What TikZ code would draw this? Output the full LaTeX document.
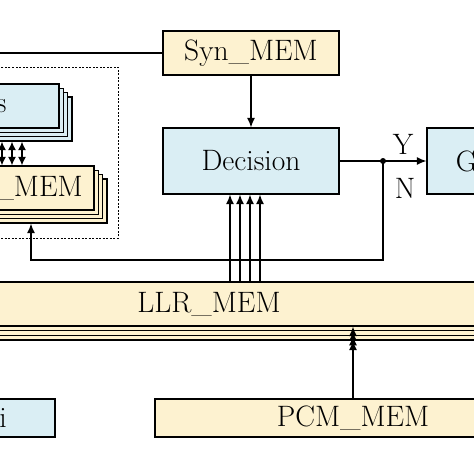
\documentclass[tikz,border=0pt]{standalone}
\usetikzlibrary{positioning, arrows.meta, calc, shadows}
\definecolor{procblue}{RGB}{218,238,244}
\definecolor{memyellow}{RGB}{253,242,208}

\begin{document}
\begin{tikzpicture}[x=1pt, y=-1pt,
  every node/.style={font=\fontsize{29.5}{34}\selectfont},
  blk/.style={rectangle, draw, line width=1.2pt, inner sep=0pt},
  proc/.style={blk, fill=procblue},
  mem/.style={blk, fill=memyellow},
  stackdr/.style={
    copy shadow={shadow xshift=12.9pt, shadow yshift=-12.9pt},
    copy shadow={shadow xshift=8.6pt, shadow yshift=-8.6pt},
    copy shadow={shadow xshift=4.3pt, shadow yshift=-4.3pt}},
  stackdn/.style={
    copy shadow={shadow xshift=0pt, shadow yshift=-14pt},
    copy shadow={shadow xshift=0pt, shadow yshift=-9.3pt},
    copy shadow={shadow xshift=0pt, shadow yshift=-4.7pt}},
  link/.style={line width=1.3pt, -{Latex[length=9.5pt,width=8pt]}},
  dlink/.style={line width=1.3pt, {Latex[length=8.5pt,width=8pt]}-{Latex[length=8.5pt,width=8pt]}},
  frame/.style={line width=1pt, dash pattern=on 2pt off 1.5pt}]
\useasboundingbox (0,0) rectangle (474,474);
\clip (0,0) rectangle (474,474);
% memories and blocks
\node[mem, minimum width=176pt, minimum height=44pt] (syn) at (251,53) {Syn\_MEM};
\node[proc, minimum width=176pt, minimum height=66pt] (dec) at (251,161) {Decision};
\node[proc, minimum width=79pt, minimum height=66pt] (gblk) at (466.5,161) {G};
\node[proc, stackdr, minimum width=115.6pt, minimum height=44pt] (units) at (1.2,106) {s};
\node[mem, stackdr, minimum width=122.4pt, minimum height=44pt] (umem) at (32.8,188) {s\_MEM};
\node[mem, stackdn, minimum width=600pt, minimum height=44pt] (llr) at (209,304) {LLR\_MEM};
\node[proc, minimum width=104pt, minimum height=38pt] (iblk) at (3,418) {i};
\node[mem, minimum width=396pt, minimum height=38pt] (pcm) at (353,418) {PCM\_MEM};
\node (yes) at (403,144) {Y};
\node (no) at (405,188) {N};
\coordinate (br) at (383,161);
\coordinate (synin) at (-10,53);
\draw[frame] (-10,67) rectangle (118,238);
% connections
\draw[line width=1.3pt] (synin) -- (syn);
\draw[link] (syn) -- (dec);
\draw[link] (dec) -- (gblk);
\fill (br) circle (3pt);
\draw[link] (br) -- ++(0,99) -| ($(umem.south)+(-1.8,13)$);
\foreach \dx in {-21,-11,-1,9}
  \draw[link] ([xshift=\dx pt]dec.south |- llr.north) -- ([xshift=\dx pt]dec.south);
\foreach \xx in {-8,2,12,22}
  \draw[dlink] ($(units.south)+(\xx-1.2,13)$) -- ($(umem.north)+(\xx-32.8,0)$);
\foreach \dy in {14,9.3,4.7,0}
  \draw[link] (pcm.north) -- ([yshift=-\dy pt]pcm.north |- llr.south);
\end{tikzpicture}
\end{document}
